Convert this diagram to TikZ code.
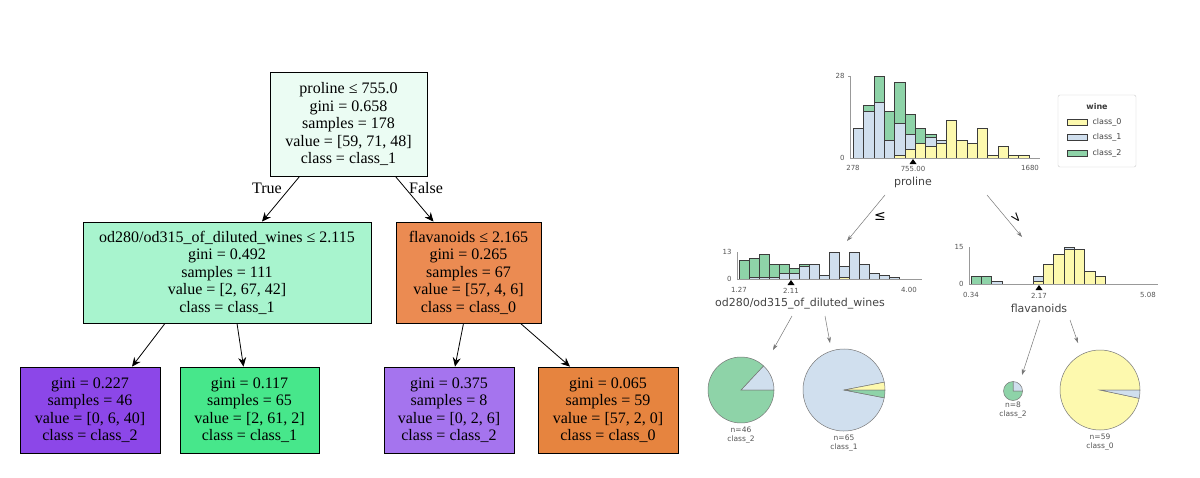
\documentclass[tikz,border=0pt]{standalone}
\usepackage{fontspec}
\setmainfont{Liberation Serif}
\newfontfamily\dv{DejaVu Sans}
\usetikzlibrary{arrows.meta}
\definecolor{cY}{HTML}{FDF9AE}
\definecolor{cB}{HTML}{D0DFEE}
\definecolor{cG}{HTML}{8ED3A8}
\definecolor{ax}{HTML}{555555}
\newcommand\drawhist[5]{%
  \foreach \a/\b/\c [count=\i from 0] in {#5}{%
    \pgfmathsetmacro\xl{#1+\i*#3}\pgfmathsetmacro\xr{\xl+#3}%
    \pgfmathsetmacro\ya{#2-\a*#4}\pgfmathsetmacro\yb{\ya-\b*#4}\pgfmathsetmacro\yc{\yb-\c*#4}%
    \ifnum\a>0 \draw[bar,fill=cY] (\xl,#2) rectangle (\xr,\ya);\fi
    \ifnum\b>0 \draw[bar,fill=cB] (\xr,\ya) rectangle (\xl,\yb);\fi
    \ifnum\c>0 \draw[bar,fill=cG] (\xl,\yb) rectangle (\xr,\yc);\fi
  }}
\tikzset{
  tbox/.style={draw,thick,align=center,inner sep=0pt,font=\fontsize{16}{17.5}\selectfont},
  tarr/.style={-{Stealth[length=9pt,width=8pt]},thick},
  bar/.style={draw=ax!70!black,line width=0.5pt},
  axl/.style={draw=ax!60,line width=0.6pt},
  tick/.style={font=\dv\fontsize{7}{8}\selectfont,text=ax},
  lab/.style={font=\dv\fontsize{11}{12}\selectfont,text=ax!80!black},
  plab/.style={font=\dv\fontsize{7.5}{9}\selectfont,text=ax,align=center},
  varr/.style={-{Stealth[length=6pt,width=4pt]},draw=ax!80,line width=0.5pt},
  wedge/.style={draw=ax!80,line width=0.5pt}
}
\begin{document}
\begin{tikzpicture}[x=1pt,y=-1pt]
\useasboundingbox[fill=white] (0,0) rectangle (1200,477);
% ---- left tree
\node[tbox,fill={rgb,255:red,235;green,252;blue,243},minimum width=157,minimum height=104] (root) at (348.5,124)
 {proline ≤ 755.0\\gini = 0.658\\samples = 178\\value = [59, 71, 48]\\class = class\_1};
\node[tbox,fill={rgb,255:red,168;green,244;blue,206},minimum width=288,minimum height=101] (nl) at (227,272.5)
 {od280/od315\_of\_diluted\_wines ≤ 2.115\\gini = 0.492\\samples = 111\\value = [2, 67, 42]\\class = class\_1};
\node[tbox,fill={rgb,255:red,235;green,139;blue,82},minimum width=145,minimum height=101] (nr) at (468.5,272.5)
 {flavanoids ≤ 2.165\\gini = 0.265\\samples = 67\\value = [57, 4, 6]\\class = class\_0};
\node[tbox,fill={rgb,255:red,140;green,71;blue,232},minimum width=140,minimum height=86] (ll) at (90,410)
 {gini = 0.227\\samples = 46\\value = [0, 6, 40]\\class = class\_2};
\node[tbox,fill={rgb,255:red,71;green,231;blue,139},minimum width=139,minimum height=86] (lr) at (249.5,410)
 {gini = 0.117\\samples = 65\\value = [2, 61, 2]\\class = class\_1};
\node[tbox,fill={rgb,255:red,165;green,116;blue,238},minimum width=130,minimum height=86] (rl) at (449,410)
 {gini = 0.375\\samples = 8\\value = [0, 2, 6]\\class = class\_2};
\node[tbox,fill={rgb,255:red,230;green,132;blue,63},minimum width=140,minimum height=86] (rr) at (608,410)
 {gini = 0.065\\samples = 59\\value = [57, 2, 0]\\class = class\_0};
\draw[tarr] ([xshift=30pt]root.south west) -- ([xshift=35pt]nl.north);
\draw[tarr] ([xshift=-32pt]root.south east) -- ([xshift=-35pt]nr.north);
\node[font=\fontsize{16}{17}\selectfont] (tt) at (267,188) {True};
\node[font=\fontsize{16}{17}\selectfont] (ff) at (426,188) {False};
\draw[tarr] ([xshift=-62pt]nl.south) -- ([xshift=42pt]ll.north);
\draw[tarr] ([xshift=10pt]nl.south) -- ([xshift=-6pt]lr.north);
\draw[tarr] ([xshift=-5pt]nr.south) -- ([xshift=6pt]rl.north);
\draw[tarr] ([xshift=52pt]nr.south) -- ([xshift=-38pt]rr.north);
% ---- right: proline histogram
\drawhist{853.3}{158}{10.33}{2.93}{0/10/0,0/16/2,0/19/9,0/6/10,1/11/14,3/5/7,5/0/5,4/3/1,5/1/0,13/0/0,6/0/0,5/0/0,10/0/0,1/0/0,4/0/0,1/0/0,1/0/0}
\draw[axl] (850,76) -- (850,158) -- (1040,158);
\draw[axl] (848,76) -- (850,76);
\node[tick,anchor=east] (p28) at (848,76) {28};
\node[tick,anchor=east] (p0) at (848,158) {0};
\node[tick] (p278) at (853,168) {278};
\node[tick] (p755) at (913,169) {755.00};
\node[tick] (p1680) at (1030,168) {1680};
\fill (913,159) -- (916.5,164) -- (909.5,164) -- cycle;
\node[lab] (pl) at (913,182) {proline};
% legend
\draw[draw=black!20,rounded corners=2pt,fill=white] (1058,95) rectangle (1136,167);
\node[font=\dv\bfseries\fontsize{8}{9}\selectfont,text=ax!70!black] (lw) at (1097,107) {wine};
\foreach \c/\t [count=\k from 0] in {cY/class\_0,cB/class\_1,cG/class\_2}{
  \draw[bar,fill=\c] (1067,{119+\k*15.5}) rectangle (1087,{125+\k*15.5});
  \node[font=\dv\fontsize{8}{9}\selectfont,text=ax!80!black,anchor=west] at (1089,{122+\k*15.5}) {\t};
}
% od280 histogram
\drawhist{739}{279}{10}{2.08}{0/0/9,0/1/9,0/1/11,0/1/6,0/3/4,0/3/2,0/6/1,0/7/0,0/2/0,0/13/0,1/5/0,0/13/0,0/7/0,0/3/0,0/2/0,0/1/0}
\draw[axl] (737,252) -- (737,279) -- (922,279);
\node[tick,anchor=east] (o13) at (735,252) {13};
\node[tick,anchor=east] (o0) at (735,279) {0};
\node[tick] (o1) at (739,290) {1.27};
\node[tick] (o2) at (791,291) {2.11};
\node[tick] (o4) at (909,290) {4.00};
\fill (791,280) -- (794.5,285) -- (787.5,285) -- cycle;
\node[lab] (ol) at (800,304) {od280/od315\_of\_diluted\_wines};
% flavanoids histogram
\drawhist{971}{284}{10.33}{2.47}{0/0/3,0/0/3,0/1/0,0/0/0,0/0/0,0/0/0,1/2/0,8/0/0,12/0/0,14/1/0,14/0/0,5/0/0,3/0/0}
\draw[axl] (969,247) -- (969,284) -- (1158,284);
\node[tick,anchor=east] (f15) at (967,247) {15};
\node[tick,anchor=east] (f0) at (967,284) {0};
\node[tick] (f1) at (971,295) {0.34};
\node[tick] (f2) at (1039,296) {2.17};
\node[tick] (f5) at (1148,295) {5.08};
\fill (1039,285) -- (1042.5,290) -- (1035.5,290) -- cycle;
\node[lab] (fl) at (1039,308) {flavanoids};
% arrows between views
\coordinate (a1) at (885,195); \coordinate (a2) at (847,241);
\coordinate (a3) at (987,195); \coordinate (a4) at (1022,237);
\draw[varr] (a1) -- (a2);
\draw[varr] (a3) -- (a4);
\node[font=\dv\fontsize{14}{15}\selectfont] (le) at (880,216) {≤};
\node[font=\dv\fontsize{13}{14}\selectfont,rotate=-50] (gt) at (1016,218) {>};
\coordinate (b1) at (792,316); \coordinate (b2) at (773,350);
\coordinate (b3) at (825,316); \coordinate (b4) at (830,343);
\coordinate (b5) at (1040,320); \coordinate (b6) at (1022,375);
\coordinate (b7) at (1070,320); \coordinate (b8) at (1078,343);
\draw[varr] (b1) -- (b2); \draw[varr] (b3) -- (b4);
\draw[varr] (b5) -- (b6); \draw[varr] (b7) -- (b8);
% pies
\coordinate (c1) at (741,390);
\draw[wedge,fill=cB] (c1) -- ++(0:33) arc (0:-47:33) -- cycle;
\draw[wedge,fill=cG] (c1) -- ++(-47:33) arc (-47:-360:33) -- cycle;
\node[plab] (n1) at (741,435) {n=46\\class\_2};
\coordinate (c2) at (844,390);
\draw[wedge,fill=cB] (c2) -- ++(-11:41) arc (-11:-349:41) -- cycle;
\draw[wedge,fill=cY] (c2) -- ++(0:41) arc (0:-11:41) -- cycle;
\draw[wedge,fill=cG] (c2) -- ++(-349:41) arc (-349:-360:41) -- cycle;
\node[plab] (n2) at (844,443) {n=65\\class\_1};
\coordinate (c3) at (1013,391);
\draw[wedge,fill=cB] (c3) -- ++(0:9.5) arc (0:-90:9.5) -- cycle;
\draw[wedge,fill=cG] (c3) -- ++(-90:9.5) arc (-90:-360:9.5) -- cycle;
\node[plab] (n3) at (1013,410) {n=8\\class\_2};
\coordinate (c4) at (1100,390);
\draw[wedge,fill=cY] (c4) -- ++(0:40) arc (0:-348:40) -- cycle;
\draw[wedge,fill=cB] (c4) -- ++(-348:40) arc (-348:-360:40) -- cycle;
\node[plab] (n4) at (1100,442) {n=59\\class\_0};
\end{tikzpicture}
\end{document}
